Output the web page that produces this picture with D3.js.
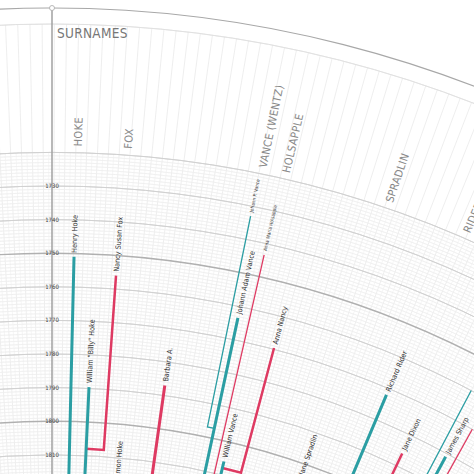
<!DOCTYPE html>
<html>
<head>
<meta charset="utf-8">
<script src="https://cdn.jsdelivr.net/npm/d3@7"></script>
<style>
body { margin: 0; background: #fff; }
text { font-family: "DejaVu Sans Condensed", "Liberation Sans Narrow", Roboto, sans-serif; }
</style>
</head>
<body>
<div id="chart"></div>
<script>
// surnames and their spoke angle (radians)
var surnames = ["HOKE", "FOX", "VANCE (WENTZ)", "HOLSAPPLE", "SPRADLIN", "RIDER"];
var surnameAngles = [0.025, 0.073, 0.204, 0.227, 0.33, 0.41];

// people: name, spoke angle, birth year, end year, sex, line weight
var names   = ["Henry Hoke", "Nancy Susan Fox", "William \"Billy\" Hoke", "Barbara A.", "Solomon Hoke",
               "Johann P. Vance", "Anna Maria Holsapple", "Johann Adam Vance", "Anna Nancy", "William Vance",
               "Jane Spradlin", "Richard Rider", "Jane Dixon", "James Sharp", "", ""];
var angles  = [0.0237, 0.0702, 0.0463, 0.140, 0.0915, 0.202, 0.224, 0.211, 0.259, 0.233, 0.337, 0.400, 0.446, 0.495, 0.485, 0.507];
var births  = [1751, 1756, 1789.6, 1787, 1820, 1733, 1743.4, 1763.4, 1769.6, 1806, 1804.5, 1772, 1786, 1781, 1760, 1770];
var ends    = [1840, 1808, 1840, 1840, 1840, 1797, 1840, 1840, 1808, 1840, 1840, 1840, 1840, 1840, 1840, 1840];
var sexes   = ["m", "f", "m", "f", "m", "m", "f", "m", "f", "m", "f", "m", "f", "m", "m", "f"];
var weights = [3, 2.5, 3, 3, 3, 1.3, 1.3, 3, 2.5, 3, 3, 3, 2.5, 3, 1.3, 1.3];
// elbow links: from person index (at its end year) to the spoke of another person
var linkFrom = [1, 5, 8];
var linkTo   = [2, 7, 9];

var tickYears = [1730, 1740, 1750, 1760, 1770, 1780, 1790, 1800, 1810];

var W = 474, H = 474;
var cx = 52, cy = 1186;
var teal = "#2b9ea3", pink = "#de3a62";

var r = d3.scaleLinear().domain([1730, 1810]).range([1000, 731.2]);
function pt(year, a) { var rr = r(year); return [cx + rr * Math.sin(a), cy - rr * Math.cos(a)]; }
function pr(rr, a) { return [cx + rr * Math.sin(a), cy - rr * Math.cos(a)]; }

var svg = d3.select("#chart").append("svg").attr("width", W).attr("height", H);
var g = svg.append("g").attr("transform", "translate(" + cx + "," + cy + ")");

var a0 = -0.25, a1 = 0.75;
function ring(rad, color, w) {
  g.append("path").attr("d", d3.arc()({innerRadius: rad, outerRadius: rad, startAngle: a0, endAngle: a1}))
    .attr("fill", "none").attr("stroke", color).attr("stroke-width", w);
}

var gridTop = r(1720), gridBottom = r(1850);
// spokes
var step = 0.0105;
for (var a = -0.25; a < 0.75; a += step) {
  var p1 = pr(1162, a), p2 = pr(gridBottom, a);
  g.append("line").attr("x1", p1[0] - cx).attr("y1", p1[1] - cy).attr("x2", p2[0] - cx).attr("y2", p2[1] - cy)
    .attr("stroke", "#e6e6e6").attr("stroke-width", 0.7);
  var q1 = pr(gridTop, a + step / 2), q2 = pr(gridBottom, a + step / 2);
  g.append("line").attr("x1", q1[0] - cx).attr("y1", q1[1] - cy).attr("x2", q2[0] - cx).attr("y2", q2[1] - cy)
    .attr("stroke", "#f0f0f0").attr("stroke-width", 0.6);
}
// yearly rings
for (var y = 1720; y <= 1850; y++) {
  if (y % 50 === 0) ring(r(y), "#b0b0b0", 1.4);
  else if (y % 10 === 0) ring(r(y), "#d0d0d0", 0.9);
  else ring(r(y), "#efefef", 0.6);
}
ring(1162, "#e0e0e0", 0.8);
ring(1178, "#a8a8a8", 1.1);

// vertical axis
svg.append("line").attr("x1", cx).attr("x2", cx).attr("y1", 8).attr("y2", H)
  .attr("stroke", "#a0a0a0").attr("stroke-width", 1.5);
svg.append("circle").attr("cx", cx).attr("cy", cy - 1178).attr("r", 2.5)
  .attr("fill", "#fff").attr("stroke", "#a8a8a8").attr("stroke-width", 0.8);

svg.selectAll(".tick").data(tickYears).enter().append("text")
  .attr("x", cx).attr("y", function(d) { return cy - r(d) + 2; })
  .attr("text-anchor", "middle").attr("font-size", 6).attr("fill", "#444")
  .text(function(d) { return d; });

svg.append("text").attr("x", 57).attr("y", 38).attr("font-size", 13.5).attr("fill", "#777")
  .attr("letter-spacing", 0.3).text("SURNAMES");

// surname labels
surnames.forEach(function(s, i) {
  var a = surnameAngles[i], p = pr(1040, a);
  svg.append("text").attr("transform", "translate(" + p[0] + "," + p[1] + ") rotate(" + (a * 180 / Math.PI - 90) + ")")
    .attr("dy", "0.35em").attr("font-size", 11).attr("fill", "#888").attr("letter-spacing", 0.3).text(s);
});

// people lines
names.forEach(function(n, i) {
  var a = angles[i], p1 = pt(births[i], a), p2 = pt(ends[i], a);
  var col = sexes[i] === "m" ? teal : pink;
  var path = [p1, p2];
  var li = linkFrom.indexOf(i);
  if (li >= 0) path.push(pt(ends[i], angles[linkTo[li]]));
  svg.append("path").attr("d", d3.line()(path)).attr("fill", "none").attr("stroke", col)
    .attr("stroke-width", weights[i]).attr("stroke-linejoin", "miter");
  if (n) {
    var lp = pr(r(births[i]) + 4, a);
    svg.append("text").attr("transform", "translate(" + lp[0] + "," + lp[1] + ") rotate(" + (a * 180 / Math.PI - 90) + ")")
      .attr("dy", "0.35em").attr("font-size", weights[i] < 2 ? 4.8 : 7.2).attr("fill", "#333").text(n);
  }
});
</script>
</body>
</html>
